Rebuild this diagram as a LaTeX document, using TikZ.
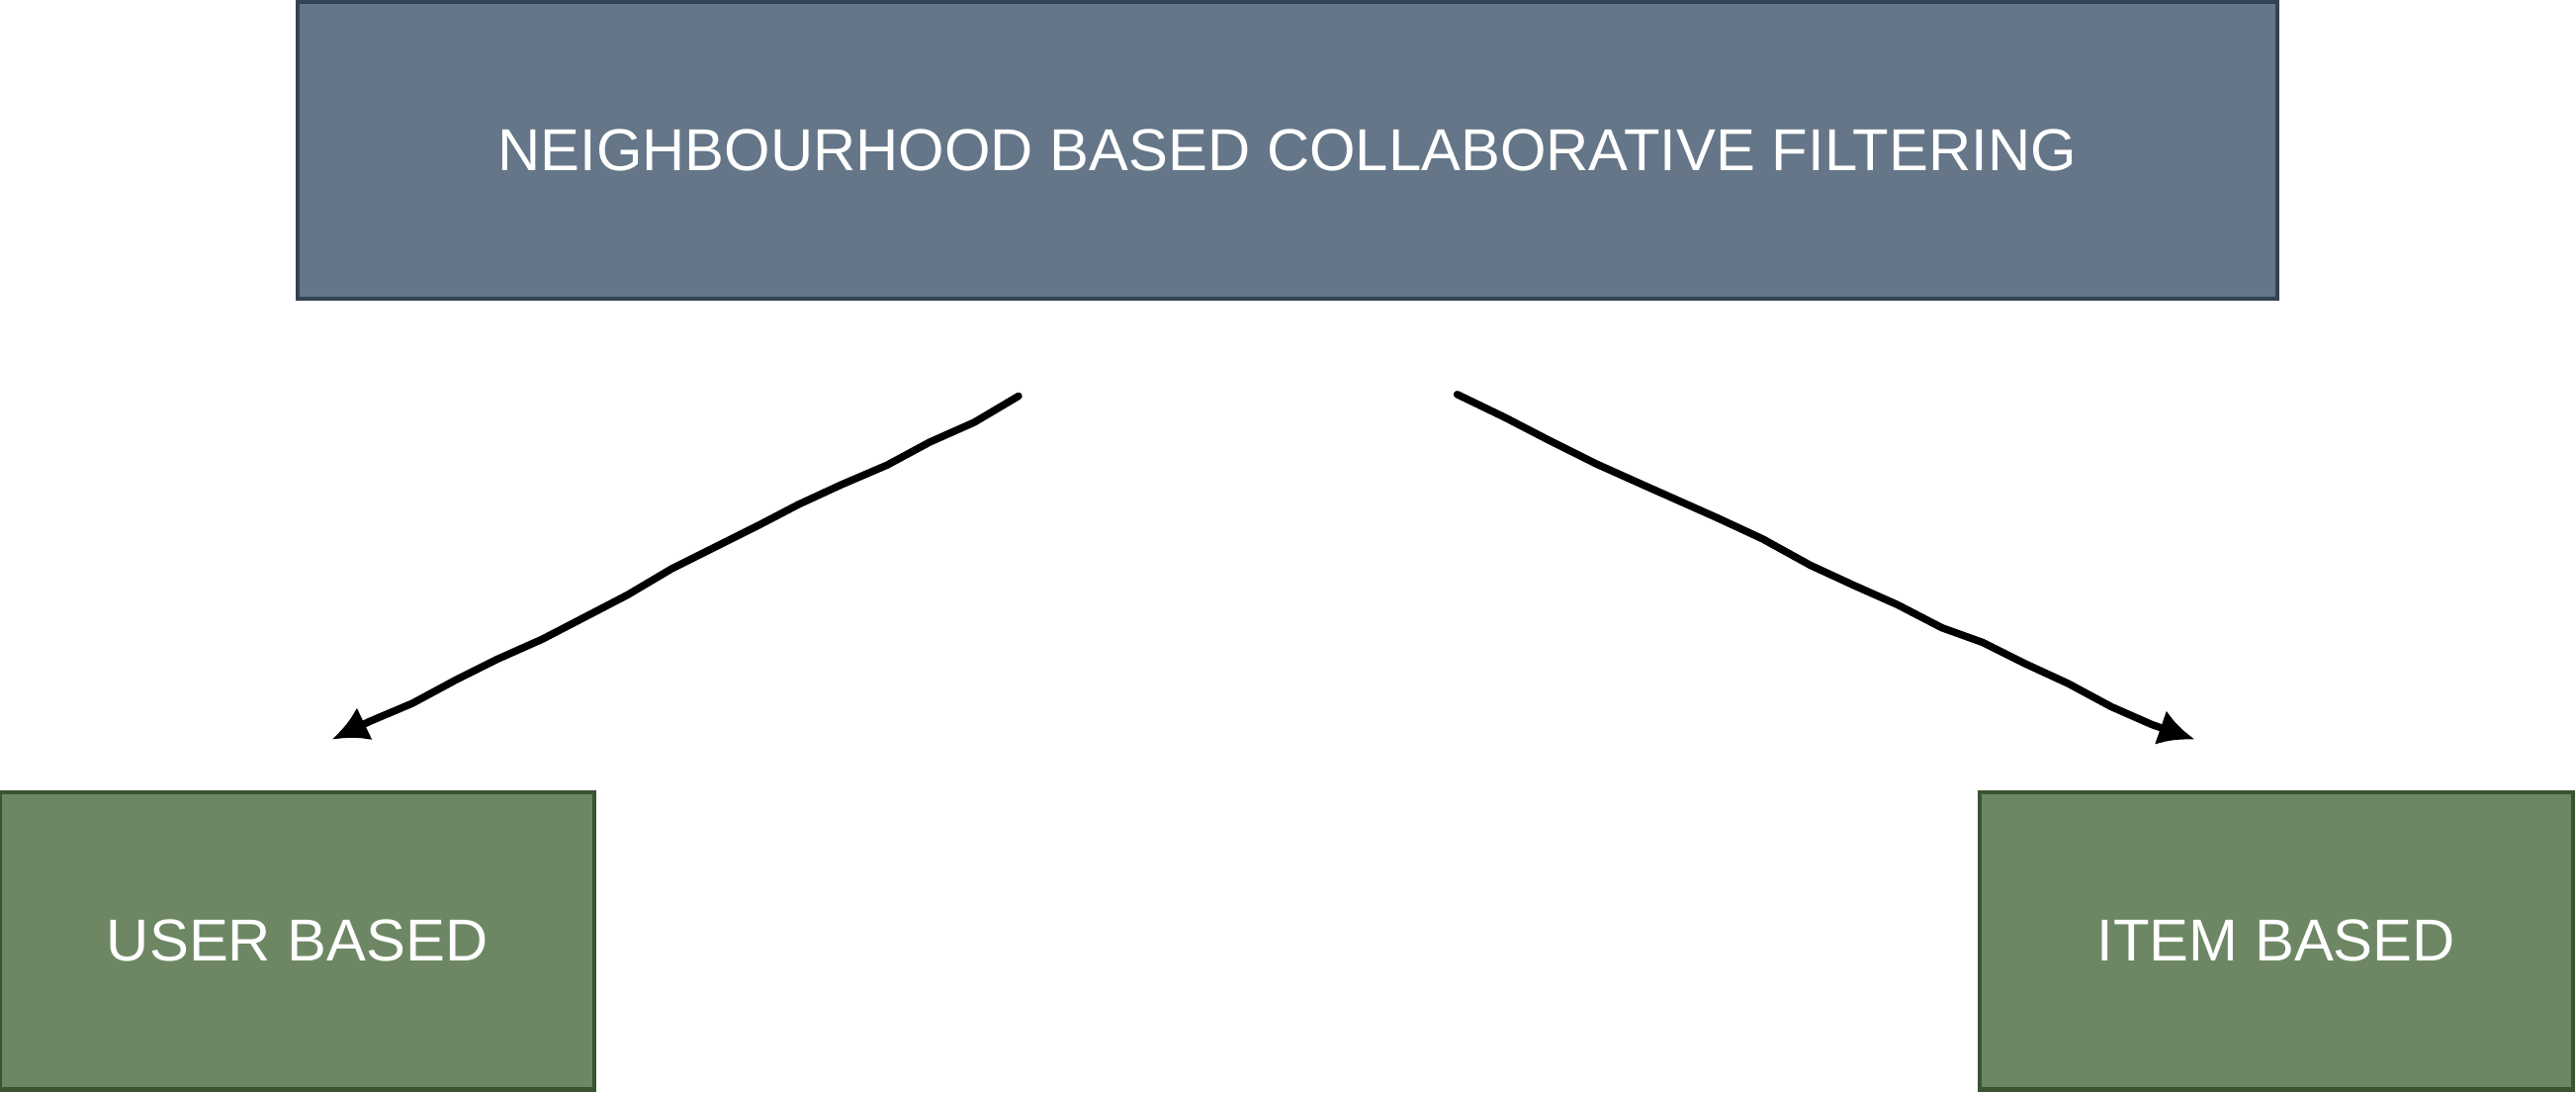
\documentclass[tikz,border=0pt]{standalone}
\usepackage{fontspec}
\setmainfont{Liberation Sans}
\usetikzlibrary{arrows.meta}
\definecolor{topfill}{HTML}{647687}
\definecolor{topline}{HTML}{314354}
\definecolor{grfill}{HTML}{6D8764}
\definecolor{grline}{HTML}{3A5431}
\begin{document}
\begin{tikzpicture}[x=1pt,y=-1pt,
  box/.style={draw,line width=2.5pt,text=white,font=\fontsize{36}{40}\selectfont,inner sep=0pt},
  conn/.style={line width=4.5pt,line cap=round,line join=round,-{Latex[length=22pt,width=22pt]}}]
\useasboundingbox (0,0) rectangle (1568,665);
\node[box,fill=topfill,draw=topline,minimum width=1205pt,minimum height=181pt] (top) at (783.5,91.5) {NEIGHBOURHOOD BASED COLLABORATIVE FILTERING};
\node[box,fill=grfill,draw=grline,minimum width=362pt,minimum height=181pt] (user) at (181,572.5) {USER BASED};
\node[box,fill=grfill,draw=grline,minimum width=361pt,minimum height=181pt] (item) at (1385.5,572.5) {ITEM BASED};
\coordinate (a1) at (620,241);
\coordinate (a2) at (202,450);
\coordinate (b1) at (887,240);
\coordinate (b2) at (1336,450);
\draw[conn] (a1) -- (593,257) -- (566,269) -- (540,283) -- (512,295) -- (486,307) -- (463,319) -- (437,332) -- (409,346) -- (382,362) -- (357,375) -- (330,389) -- (303,401) -- (277,414) -- (251,428) -- (225,439) -- (a2);
\draw[conn] (b1) -- (916,254) -- (943,268) -- (971,282) -- (1000,295) -- (1045,315) -- (1073,328) -- (1102,344) -- (1128,356) -- (1155,368) -- (1182,382) -- (1207,391) -- (1233,404) -- (1259,416) -- (1285,430) -- (1310,441) -- (b2);
\end{tikzpicture}
\end{document}
